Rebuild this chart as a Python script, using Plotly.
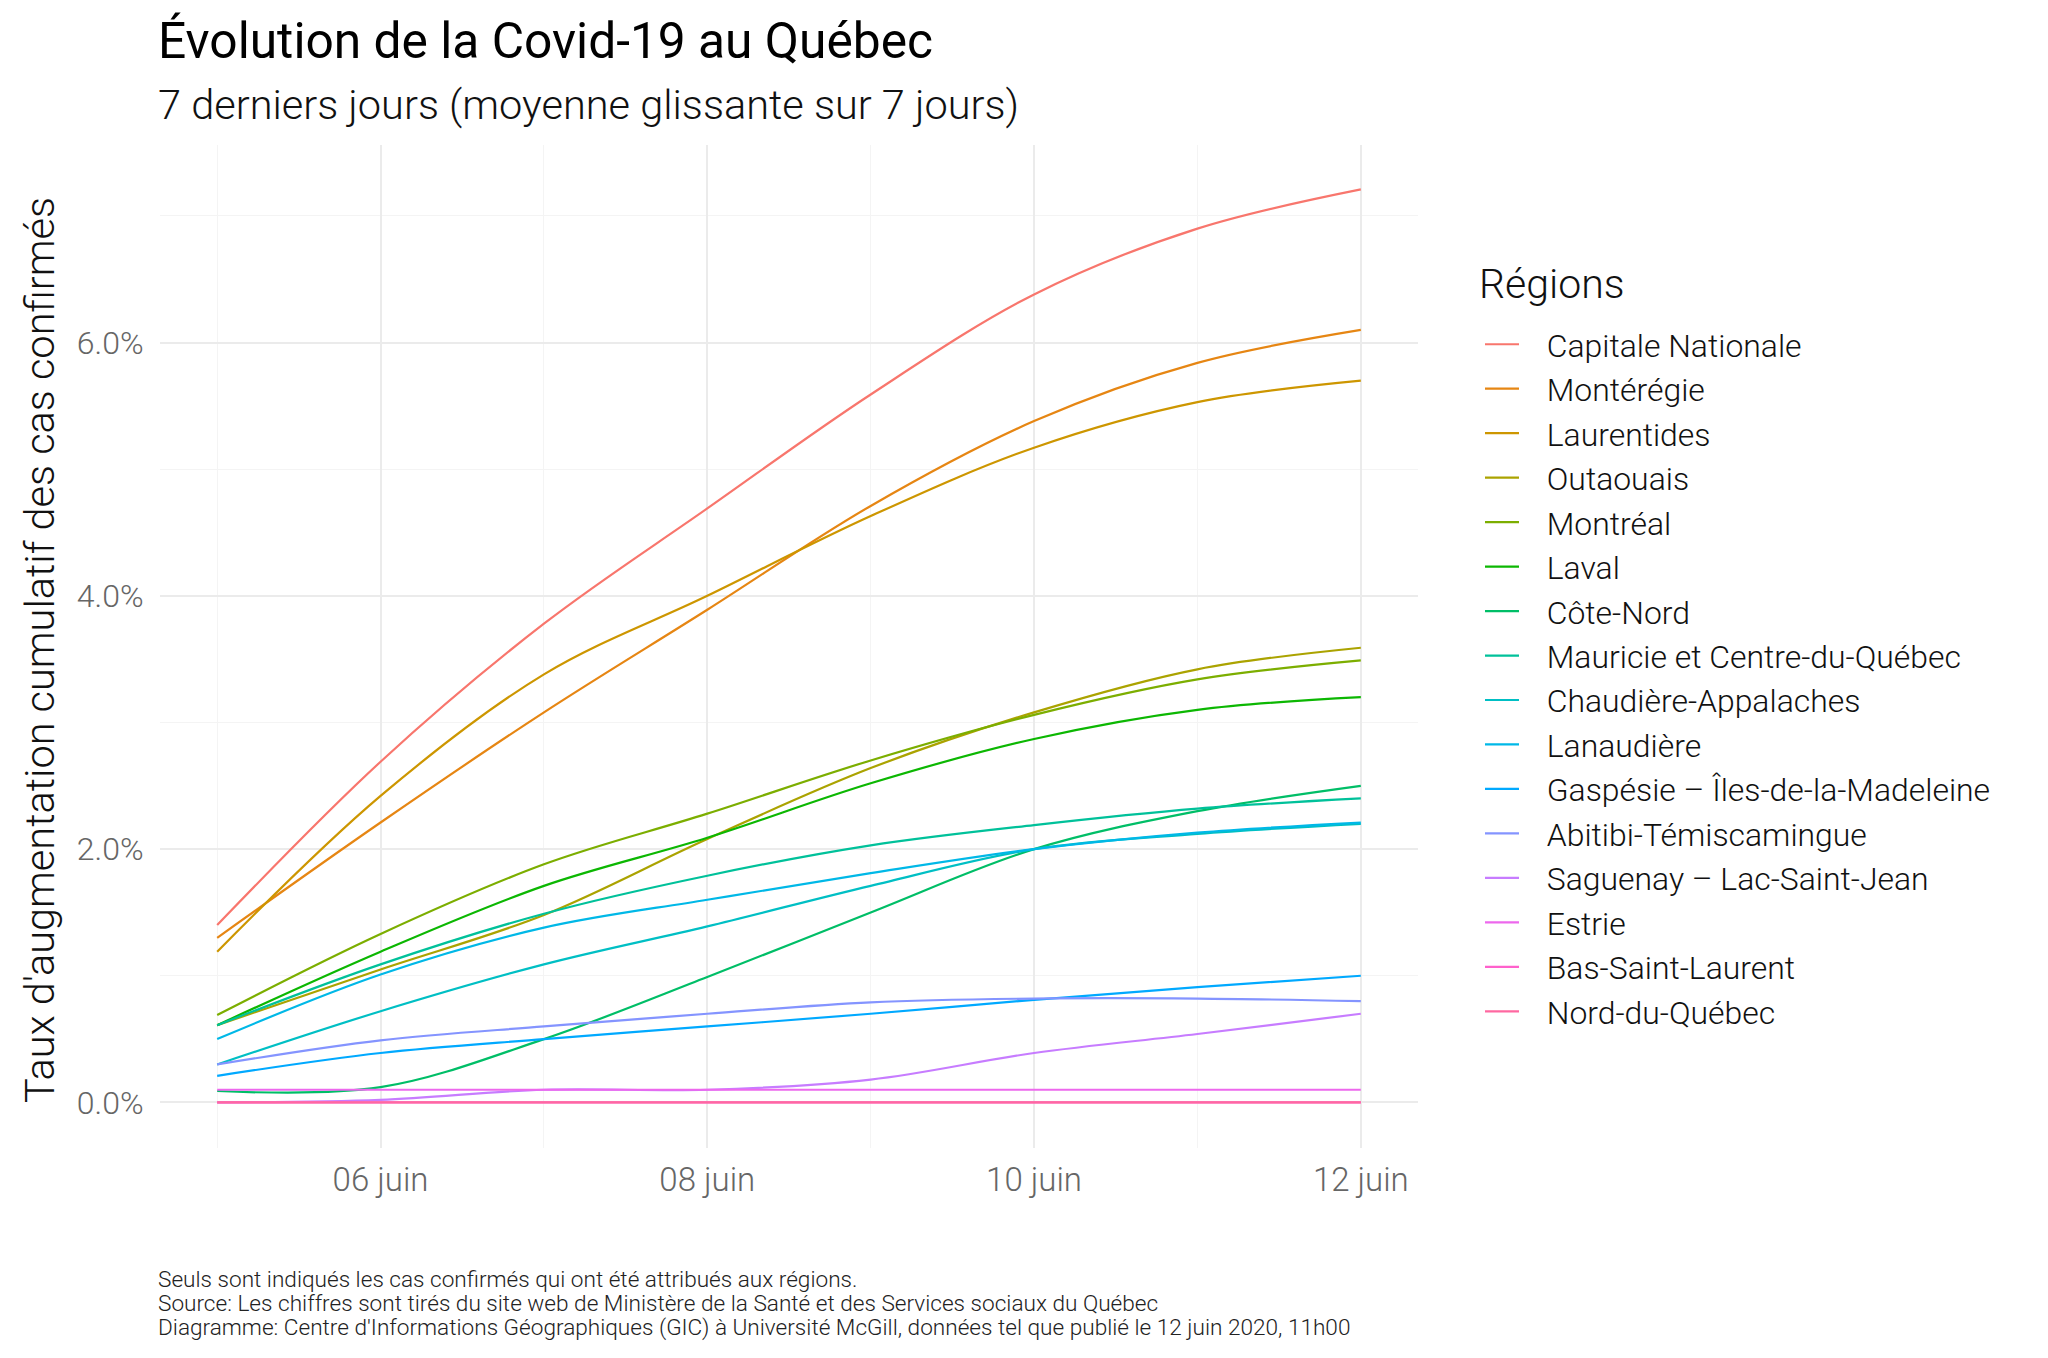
import plotly.graph_objects as go

# ---------------- data ----------------
dates = ["2020-06-05", "2020-06-06", "2020-06-07", "2020-06-08",
         "2020-06-09", "2020-06-10", "2020-06-11", "2020-06-12"]

regions = ["Capitale Nationale", "Montérégie", "Laurentides", "Outaouais", "Montréal",
           "Laval", "Côte-Nord", "Mauricie et Centre-du-Québec", "Chaudière-Appalaches",
           "Lanaudière", "Gaspésie – Îles-de-la-Madeleine", "Abitibi-Témiscamingue",
           "Saguenay – Lac-Saint-Jean", "Estrie", "Bas-Saint-Laurent", "Nord-du-Québec"]

capitale_nationale = [1.40, 2.69, 3.78, 4.69, 5.59, 6.38, 6.90, 7.21]
monteregie = [1.30, 2.21, 3.08, 3.89, 4.71, 5.38, 5.84, 6.10]
laurentides = [1.19, 2.42, 3.38, 4.00, 4.63, 5.17, 5.53, 5.70]
outaouais = [0.61, 1.05, 1.48, 2.08, 2.64, 3.08, 3.42, 3.59]
montreal = [0.69, 1.33, 1.88, 2.28, 2.70, 3.06, 3.34, 3.49]
laval = [0.61, 1.19, 1.71, 2.09, 2.52, 2.87, 3.10, 3.20]
cote_nord = [0.09, 0.12, 0.50, 0.99, 1.50, 2.00, 2.30, 2.50]
mauricie = [0.61, 1.09, 1.49, 1.79, 2.03, 2.19, 2.32, 2.40]
chaudiere_appalaches = [0.30, 0.72, 1.09, 1.39, 1.71, 2.00, 2.12, 2.20]
lanaudiere = [0.50, 1.01, 1.38, 1.60, 1.81, 2.00, 2.13, 2.21]
gaspesie = [0.21, 0.39, 0.50, 0.60, 0.70, 0.81, 0.91, 1.00]
abitibi = [0.30, 0.49, 0.60, 0.70, 0.79, 0.82, 0.82, 0.80]
saguenay = [0.00, 0.02, 0.10, 0.10, 0.18, 0.39, 0.54, 0.70]
estrie = [0.10, 0.10, 0.10, 0.10, 0.10, 0.10, 0.10, 0.10]
bas_saint_laurent = [0.00, 0.00, 0.00, 0.00, 0.00, 0.00, 0.00, 0.00]
nord_du_quebec = [0.00, 0.00, 0.00, 0.00, 0.00, 0.00, 0.00, 0.00]

series = [capitale_nationale, monteregie, laurentides, outaouais, montreal, laval,
          cote_nord, mauricie, chaudiere_appalaches, lanaudiere, gaspesie, abitibi,
          saguenay, estrie, bas_saint_laurent, nord_du_quebec]

colors = ["#F8766D", "#E68613", "#CD9600", "#ABA300", "#7CAE00", "#0CB702",
          "#00BE67", "#00C19A", "#00BFC4", "#00B8E7", "#00A9FF", "#8494FF",
          "#C77CFF", "#ED68ED", "#FF61CC", "#FF68A1"]

y_ticks = [0, 2, 4, 6]
y_tick_labels = ["0.0%", "2.0%", "4.0%", "6.0%"]
x_ticks = ["2020-06-06", "2020-06-08", "2020-06-10", "2020-06-12"]
x_tick_labels = ["06 juin", "08 juin", "10 juin", "12 juin"]

title = "Évolution de la Covid-19 au Québec"
subtitle = "7 derniers jours (moyenne glissante sur 7 jours)"
y_title = "Taux d'augmentation cumulatif des cas confirmés"
legend_title = "Régions"
caption = ["Seuls sont indiqués les cas confirmés qui ont été attribués aux régions.",
           "Source: Les chiffres sont tirés du site web de Ministère de la Santé et des Services sociaux du Québec",
           "Diagramme: Centre d'Informations Géographiques (GIC) à Université McGill, données tel que publié le 12 juin 2020, 11h00"]

# ---------------- layout geometry (page body has an 8px margin) ----------------
W, H = 2040, 1350
ML, MR, MT, MB = 152, 630, 137, 210
PW, PH = W - ML - MR, H - MT - MB


def px(x):
    return (x - ML) / PW


def py(y):
    return (H - MB - y) / PH


FONT = "Roboto"
LEGEND_PAD = "\u2002\u2009"  # visual gap between legend key and label

fig = go.Figure()
for name, vals, col in zip(regions, series, colors):
    fig.add_trace(go.Scatter(
        x=dates, y=vals, name=LEGEND_PAD + name, mode="lines",
        line=dict(color=col, width=2.2, shape="spline", smoothing=1.0),
    ))

fig.update_layout(
    width=W, height=H,
    margin=dict(l=ML, r=MR, t=MT, b=MB),
    paper_bgcolor="white", plot_bgcolor="white",
    font=dict(family=FONT, color="#222222"),
    showlegend=True,
    legend=dict(
        font=dict(family=FONT, size=31.9, color="#111111", weight=300),
        xref="paper", yref="paper",
        x=px(1472), y=py(309), xanchor="left", yanchor="top",
        bgcolor="rgba(0,0,0,0)", borderwidth=0,
        tracegroupgap=0, itemwidth=34,
    ),
    xaxis=dict(
        type="date",
        range=["2020-06-04 15:36", "2020-06-12 08:24"],
        tickvals=x_ticks, ticktext=x_tick_labels,
        showgrid=True, gridcolor="#EBEBEB", gridwidth=2,
        minor=dict(showgrid=True, gridcolor="#F4F4F4", gridwidth=1, dtick=86400000,
                   tick0="2020-06-05"),
        zeroline=False, showline=False,
        ticks="outside", ticklen=2, tickcolor="rgba(0,0,0,0)",
        tickfont=dict(family=FONT, size=33, color="#666666", weight=300),
    ),
    yaxis=dict(
        range=[-0.36, 7.56],
        tickvals=y_ticks, ticktext=y_tick_labels,
        showgrid=True, gridcolor="#EBEBEB", gridwidth=2,
        minor=dict(showgrid=True, gridcolor="#F4F4F4", gridwidth=1, dtick=1, tick0=0),
        zeroline=False, showline=False,
        ticks="outside", ticklen=9, tickcolor="rgba(0,0,0,0)",
        tickfont=dict(family=FONT, size=32, color="#666666", weight=300),
    ),
)

annotations = [
    dict(text=title, x=px(148), y=py(33), xanchor="left", yanchor="middle",
         font=dict(family=FONT, size=49.7, color="#000000")),
    dict(text=subtitle, x=px(148), y=py(96), xanchor="left", yanchor="middle",
         font=dict(family=FONT, size=41.5, color="#111111", weight=300)),
    dict(text=y_title, x=px(31), y=py(642), xanchor="center", yanchor="middle",
         textangle=-90, font=dict(family=FONT, size=41.5, color="#111111", weight=300)),
    dict(text=legend_title, x=px(1469), y=py(276), xanchor="left", yanchor="middle",
         font=dict(family=FONT, size=41, color="#111111", weight=300)),
]
for i, line in enumerate(caption):
    annotations.append(dict(text=line, x=px(148), y=py(1271 + 24 * i),
                            xanchor="left", yanchor="middle",
                            font=dict(family=FONT, size=22.6, color="#222222", weight=300)))
for a in annotations:
    a.update(xref="paper", yref="paper", showarrow=False)
fig.update_layout(annotations=annotations)

fig.write_html("out.html")
